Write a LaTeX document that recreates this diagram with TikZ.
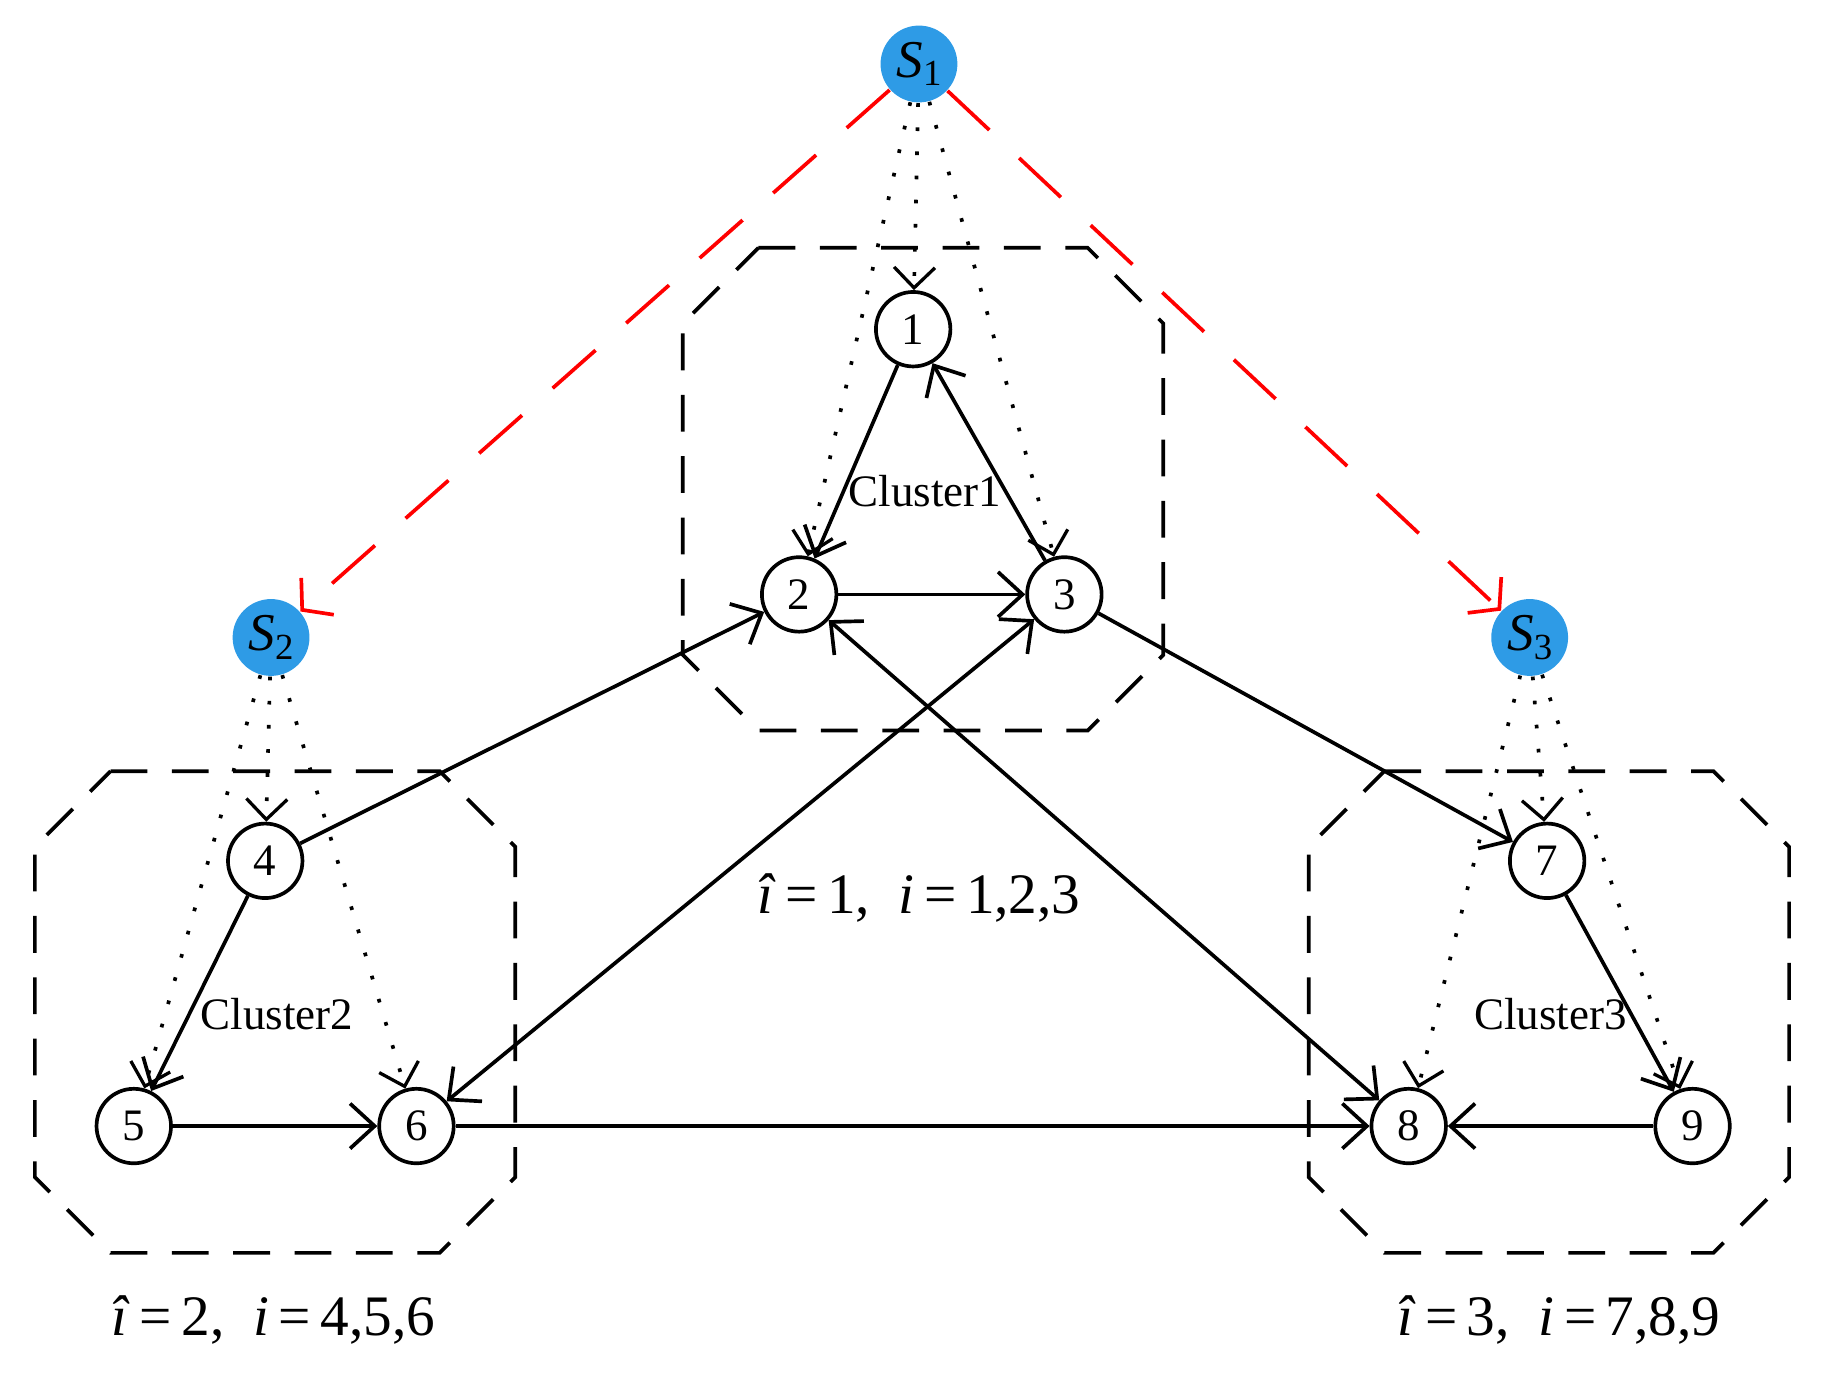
\documentclass[tikz,border=0pt]{standalone}
\usepackage{fontspec}
\setmainfont{Liberation Serif}
\usetikzlibrary{arrows.meta}
\definecolor{sblue}{HTML}{2E9BE6}
\begin{document}
\begin{tikzpicture}[x=0.01cm,y=-0.01cm,
  nd/.style={circle,draw,line width=0.9pt,minimum size=0.64cm,inner sep=0pt,font=\fontsize{11}{12}\selectfont},
  src/.style={circle,fill=sblue,minimum size=0.66cm,inner sep=0pt,font=\fontsize{13}{14}\selectfont},
  ar/.style={line width=0.9pt,-{Straight Barb[length=6pt,width=11pt,line width=0.9pt]}},
  ba/.style={line width=0.9pt,{Straight Barb[length=6pt,width=11pt,line width=0.9pt]}-{Straight Barb[length=6pt,width=11pt,line width=0.9pt]}},
  dt/.style={dash pattern=on 0.9pt off 5pt,line width=0.9pt,-{Straight Barb[length=5pt,width=10pt,line width=0.8pt]}},
  rd/.style={red,dash pattern=on 14pt off 10pt,line width=0.9pt,-{Straight Barb[length=5pt,width=12pt,line width=0.9pt]}},
  oct/.style={dash pattern=on 9pt off 6pt,line width=0.9pt},
  cl/.style={font=\fontsize{11}{13}\selectfont},
  ml/.style={font=\fontsize{14}{16}\selectfont}]
\useasboundingbox (0,0) rectangle (1568,1181);
\newcommand{\octo}[4]{\draw[oct] (#1+65,#2) -- (#3-65,#2) -- (#3,#2+65) -- (#3,#4-65) -- (#3-65,#4) -- (#1+65,#4) -- (#1,#4-65) -- (#1,#2+65) -- cycle;}
\newcommand{\lbl}[2]{\textit{\^{\i}}\,=\,#1,\ \ \textit{i}\,=\,#2}
\octo{587}{213}{1000}{628}
\octo{30}{663}{443}{1077}
\octo{1125}{663}{1538}{1077}
\node[src] (S1) at (790,55) {\textit{S}\raisebox{-0.35ex}{\fontsize{9}{10}\selectfont 1}};
\node[src] (S2) at (233,548) {\textit{S}\raisebox{-0.35ex}{\fontsize{9}{10}\selectfont 2}};
\node[src] (S3) at (1315,548) {\textit{S}\raisebox{-0.35ex}{\fontsize{9}{10}\selectfont 3}};
\node[nd] (n1) at (785,283) {1};
\node[nd] (n2) at (687,511) {2};
\node[nd] (n3) at (915,511) {3};
\node[nd] (n4) at (228,740) {4};
\node[nd] (n5) at (115,968) {5};
\node[nd] (n6) at (358,968) {6};
\node[nd] (n7) at (1330,740) {7};
\node[nd] (n8) at (1211,968) {8};
\node[nd] (n9) at (1455,968) {9};
\node[cl] (c1) at (795,422) {Cluster1};
\node[cl] (c2) at (238,872) {Cluster2};
\node[cl] (c3) at (1333,872) {Cluster3};
\node[ml] (l1) at (790,772) {\lbl{1}{1,2,3}};
\node[ml] (l2) at (235,1135) {\lbl{2}{4,5,6}};
\node[ml] (l3) at (1340,1135) {\lbl{3}{7,8,9}};
\draw[rd] (S1) -- (S2);
\draw[rd] (S1) -- (S3);
\foreach \s/\t in {S1/n1,S1/n2,S1/n3,S2/n4,S2/n5,S2/n6,S3/n7,S3/n8,S3/n9}
  \draw[dt] (\s) -- (\t);
\draw[ar] (n1) -- (n2);
\draw[ar] (n3) -- (n1);
\draw[ar] (n2) -- (n3);
\draw[ar] (n4) -- (n2);
\draw[ba] (n6) -- (n3);
\draw[ba] (n2) -- (n8);
\draw[ar] (n3) -- (n7);
\draw[ar] (n4) -- (n5);
\draw[ar] (n5) -- (n6);
\draw[ar] (n6) -- (n8);
\draw[ar] (n9) -- (n8);
\draw[ar] (n7) -- (n9);
\end{tikzpicture}
\end{document}
